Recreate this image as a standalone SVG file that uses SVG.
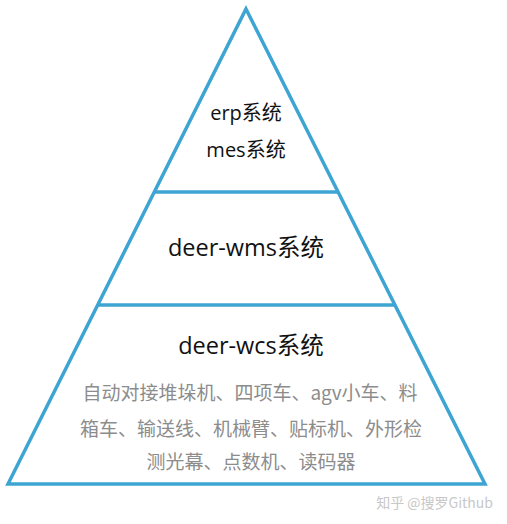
<svg xmlns="http://www.w3.org/2000/svg" width="507" height="524" viewBox="0 0 507 524">
<style>
.edge{stroke:#3ea5d3;stroke-width:3.5;fill:none;stroke-linejoin:miter}
.t{font-family:"Open Sans","Liberation Sans","Noto Sans CJK SC",sans-serif;fill:#111;text-anchor:middle}
.g{font-family:"Noto Sans CJK SC",sans-serif;fill:#8c8c8c;text-anchor:middle;font-size:19px}
.wm{font-family:"Noto Sans CJK SC",sans-serif;fill:#c8c8c8;font-size:14px;text-anchor:end}
</style>
<rect width="507" height="524" fill="#fff"/>
<g id="connectors">
<path class="edge" d="M246,9 L485,484 L8,484 Z"/>
<line class="edge" x1="154" y1="192" x2="338" y2="192"/>
<line class="edge" x1="98" y1="305" x2="394" y2="305"/>
</g>
<g id="top">
<text class="t" x="246" y="120" font-size="20">erp系统</text>
<text class="t" x="246" y="157" font-size="20">mes系统</text>
</g>
<g id="middle">
<text class="t" x="246" y="256" font-size="23.5">deer-wms系统</text>
</g>
<g id="bottom">
<text class="t" x="251" y="354" font-size="23.5">deer-wcs系统</text>
<text class="g" x="250" y="400">自动对接堆垛机、四项车、agv小车、料</text>
<text class="g" x="251" y="436">箱车、输送线、机械臂、贴标机、外形检</text>
<text class="g" x="251" y="469">测光幕、点数机、读码器</text>
</g>
<text class="wm" x="493" y="508">知乎 @搜罗Github</text>
</svg>
